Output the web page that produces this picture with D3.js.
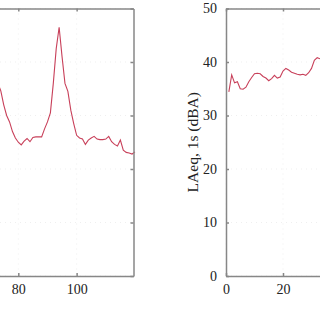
<html>
  <head>
    <script src="https://d3js.org/d3.v7.min.js"></script>
    <style>
      body { margin: 0; background: #fff; }
      text { font-family: "Liberation Serif", "Times New Roman", serif; fill: #222; }
    </style>
  </head>

  <body>
    <div id="vis"></div>
  </body>

  <script>
    // left panel (only the right part is in view)
    var leftTime = [72, 73, 74, 75, 76, 77, 78, 79, 80, 81, 82, 83, 84, 85, 86, 87, 88, 89, 90,
      91, 92, 93, 94, 95, 96, 97, 98, 99, 100, 101, 102, 103, 104, 105, 106, 107, 108, 109, 110,
      111, 112, 113, 114, 115, 116, 117, 118, 119, 120]
    var leftLevel = [37, 36, 34.6, 32, 30, 28.8, 27, 25.8, 25, 24.5, 25.2, 25.7, 25.1, 25.9, 26, 26, 26, 27.5, 28.8,
      30.5, 36, 42.5, 46.5, 41, 36, 34.5, 31, 28.5, 26.3, 25.8, 25.6, 24.6, 25.4, 25.8, 26.1, 25.6, 25.5, 25.5, 25.6,
      26.1, 25.1, 24.6, 24.3, 25.4, 23.5, 23.1, 23, 22.8, 23.2]

    // right panel (only the left part is in view)
    var rightTime = [1, 2, 3, 4, 5, 6, 7, 8, 9, 10, 11, 12, 13, 14, 15, 16, 17, 18, 19, 20,
      21, 22, 23, 24, 25, 26, 27, 28, 29, 30, 31, 32, 33, 34, 35]
    var rightLevel = [34.4, 37.6, 36.1, 36.3, 35.0, 34.9, 35.3, 36.3, 37.1, 37.8, 37.9, 37.8, 37.3, 37.0, 36.5, 36.9, 37.5, 37.0, 37.2, 38.3,
      38.8, 38.5, 38.1, 37.9, 37.7, 37.6, 37.7, 37.5, 38.0, 38.8, 40.3, 40.8, 40.6, 40.6, 40.5]

    var xTicks = [0, 20, 40, 60, 80, 100]
    var yTicks = [0, 10, 20, 30, 40, 50]
    var yLabel = "LAeq, 1s (dBA)"

    var width = 320
    var height = 320
    var plotTop = 8.5
    var plotBottom = 276

    var svg = d3.select("#vis")
    .append("svg")
    .attr("width", width)
    .attr("height", height)

    svg.append("rect")
    .attr("width", width)
    .attr("height", height)
    .attr("fill", "#fff")

    var y = d3.scaleLinear().domain([0, 50]).range([plotBottom, plotTop])
    var xLeft = d3.scaleLinear().domain([0, 119.5]).range([-215, 133.5])
    var xRight = d3.scaleLinear().domain([0, 120]).range([226, 226 + 120 * 2.85])

    var line = function(x) {
      return d3.line()
      .x(function(d) { return x(d[0]) })
      .y(function(d) { return y(d[1]) })
    }

    function panel(x, times, levels) {
      var g = svg.append("g")
      var x0 = x.range()[0]
      var x1 = x.range()[1]

      // faint grid
      g.append("g")
      .selectAll("line")
      .data(xTicks)
      .enter()
      .append("line")
      .attr("x1", function(d) { return x(d) })
      .attr("x2", function(d) { return x(d) })
      .attr("y1", plotTop)
      .attr("y2", plotBottom)
      .style("stroke", "#efefef")
      .style("stroke-dasharray", "1,4")
      g.append("g")
      .selectAll("line")
      .data(yTicks)
      .enter()
      .append("line")
      .attr("x1", x0)
      .attr("x2", x1)
      .attr("y1", function(d) { return y(d) })
      .attr("y2", function(d) { return y(d) })
      .style("stroke", "#efefef")
      .style("stroke-dasharray", "1,4")

      // data line
      g.append("path")
      .datum(d3.zip(times, levels))
      .attr("d", line(x))
      .style("fill", "none")
      .style("stroke", "#c8405a")
      .style("stroke-width", 1.1)

      // axes, ticks pointing in
      g.append("g")
      .attr("transform", "translate(0," + plotBottom + ")")
      .call(d3.axisBottom(x).tickValues(xTicks).tickSizeInner(-3).tickSizeOuter(0).tickPadding(8))
      g.append("g")
      .attr("transform", "translate(0," + plotTop + ")")
      .call(d3.axisTop(x).tickValues(xTicks).tickSizeInner(-3).tickSizeOuter(0).tickFormat(""))
      g.append("g")
      .attr("transform", "translate(" + x0 + ",0)")
      .call(d3.axisLeft(y).tickValues(yTicks).tickSizeInner(-3).tickSizeOuter(0).tickPadding(9))
      g.append("g")
      .attr("transform", "translate(" + x1 + ",0)")
      .call(d3.axisRight(y).tickValues(yTicks).tickSizeInner(-3).tickSizeOuter(0).tickFormat(""))

      g.selectAll(".domain, .tick line")
      .style("stroke", "#878787")
      .style("stroke-width", 1.5)
      g.selectAll(".tick text")
      .style("font-family", "'Liberation Serif', serif")
      .style("font-size", "14px")
      .style("fill", "#222")

      // labels that fall outside the picture are dropped
      g.selectAll(".tick").filter(function() {
        var m = /translate\(([-\d.]+),([-\d.]+)\)/.exec(this.getAttribute("transform"))
        var parent = this.parentNode.getAttribute("transform") || ""
        var px = /translate\(([-\d.]+)/.exec(parent)
        var pos = +m[1] + (px ? +px[1] : 0)
        return pos < 0 || pos > width - 8
      }).select("text").remove()
    }

    panel(xLeft, leftTime, leftLevel)
    panel(xRight, rightTime, rightLevel)

    svg.append("text")
    .attr("transform", "translate(198," + ((plotTop + plotBottom) / 2) + ") rotate(-90)")
    .attr("text-anchor", "middle")
    .style("font-size", "15.5px")
    .text(yLabel)
  </script>
</html>
